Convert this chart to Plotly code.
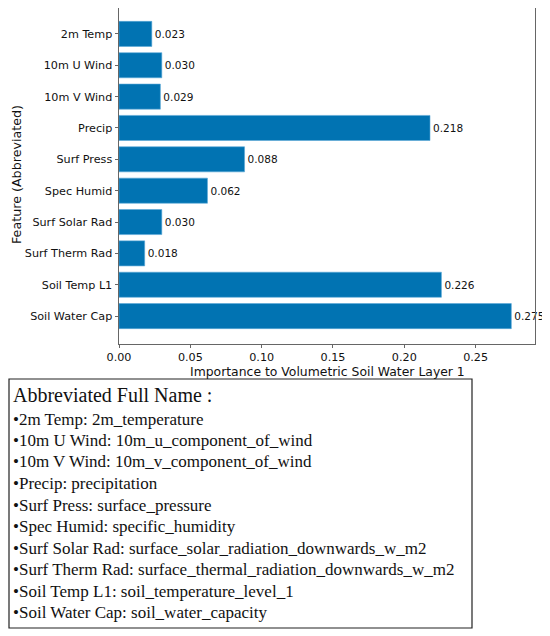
import plotly.graph_objects as go

features = ['2m Temp', '10m U Wind', '10m V Wind', 'Precip', 'Surf Press',
            'Spec Humid', 'Surf Solar Rad', 'Surf Therm Rad', 'Soil Temp L1', 'Soil Water Cap']
importance = [0.023, 0.030, 0.029, 0.218, 0.088, 0.062, 0.030, 0.018, 0.226, 0.275]
full_names = ['2m_temperature', '10m_u_component_of_wind', '10m_v_component_of_wind',
              'precipitation', 'surface_pressure', 'specific_humidity',
              'surface_solar_radiation_downwards_w_m2', 'surface_thermal_radiation_downwards_w_m2',
              'soil_temperature_level_1', 'soil_water_capacity']
x_ticks = [0.0, 0.05, 0.10, 0.15, 0.20, 0.25]

W, H = 550, 636
OFF = 8  # page body margin

def px_x(p):
    return (p - OFF) / W

def px_y(p):
    return 1 - (p - OFF) / H

fig = go.Figure(go.Bar(
    x=importance, y=features, orientation='h',
    marker=dict(color='#0173B2', line=dict(color='#5aa7d6', width=0.6)),
    text=[f'{v:.3f}' for v in importance], textposition='outside',
    textfont=dict(family='DejaVu Sans', size=10.5, color='#111'),
    cliponaxis=False,
))

fig.update_layout(
    width=W, height=H,
    margin=dict(l=0, r=0, t=0, b=0),
    paper_bgcolor='white', plot_bgcolor='white',
    showlegend=False, bargap=0.2,
    font=dict(family='DejaVu Sans', size=11.2, color='#111'),
    xaxis=dict(domain=[px_x(119), px_x(535)], range=[0, 0.2916], automargin=False,
               tickvals=x_ticks, ticktext=[f'{t:.2f}' for t in x_ticks],
               showline=True, linecolor='#666', linewidth=1, mirror=True,
               ticks='outside', ticklen=3, tickcolor='#666', showgrid=False, zeroline=False),
    yaxis=dict(domain=[px_y(344), px_y(8)], range=[9.89, -0.826], automargin=False,
               showline=True, linecolor='#666', linewidth=1, mirror=True,
               ticks='outside', ticklen=3.5, tickcolor='#666', showgrid=False),
)

# axis titles
fig.add_annotation(xref='paper', yref='paper', x=px_x(327), y=px_y(371),
                   xanchor='center', yanchor='middle', showarrow=False,
                   text='Importance to Volumetric Soil Water Layer 1',
                   font=dict(family='DejaVu Sans', size=12.4, color='#111'))
fig.add_annotation(xref='paper', yref='paper', x=px_x(16), y=px_y(175),
                   xanchor='center', yanchor='middle', showarrow=False, textangle=-90,
                   text='Feature (Abbreviated)',
                   font=dict(family='DejaVu Sans', size=12.7, color='#111'))

# legend box with abbreviations
fig.add_shape(type='rect', xref='paper', yref='paper',
              x0=px_x(9), x1=px_x(472), y0=px_y(628), y1=px_y(379),
              line=dict(color='#222', width=1.2), fillcolor='white')

fig.add_annotation(xref='paper', yref='paper', x=px_x(11), y=px_y(395),
                   xanchor='left', yanchor='middle', showarrow=False,
                   text='Abbreviated Full Name :',
                   font=dict(family='Liberation Serif', size=20, color='#111'))

for i, (ab, full) in enumerate(zip(features, full_names)):
    fig.add_annotation(xref='paper', yref='paper', x=px_x(11), y=px_y(419 + i * 21.5),
                       xanchor='left', yanchor='middle', showarrow=False,
                       text=f'•{ab}: {full}',
                       font=dict(family='Liberation Serif', size=17, color='#111'))

fig.write_html('out.html')
